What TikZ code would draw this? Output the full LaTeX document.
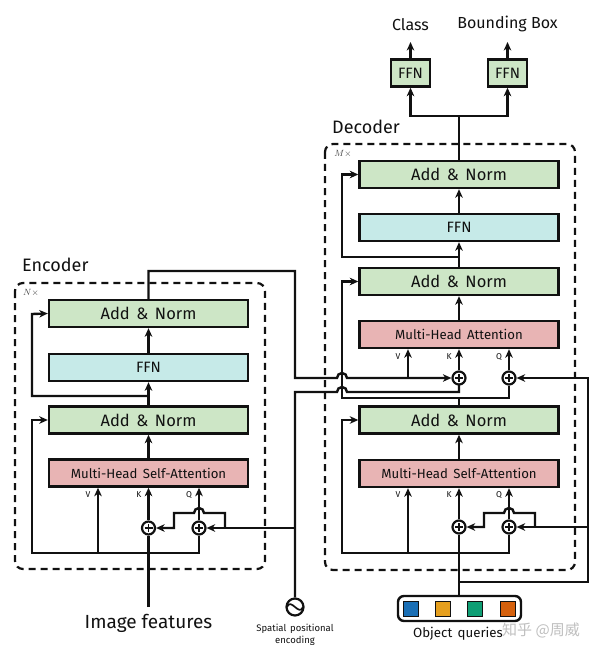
\documentclass[tikz,border=0pt]{standalone}
\usepackage{fontspec}
\setmainfont{Fira Sans}
\newfontfamily\cjkfont{Noto Sans CJK SC}
\usetikzlibrary{arrows.meta}
\definecolor{angreen}{HTML}{CDE6C6}
\definecolor{ffncyan}{HTML}{C6EAE8}
\definecolor{mhpink}{HTML}{E8B4B4}
\definecolor{qblue}{HTML}{1A6FB5}
\definecolor{qorange}{HTML}{E59F1E}
\definecolor{qgreen}{HTML}{0E9E74}
\definecolor{qred}{HTML}{D5600C}
\definecolor{ink}{HTML}{111111}
\newcommand\wsp{\hspace{0.4em}}
\begin{document}
\begin{tikzpicture}[x=1pt,y=-1pt,line width=2.4pt,draw=ink,text=ink,
  arr/.style={-{Stealth[length=8.5pt,width=7.5pt,inset=2.5pt]}},
  box/.style={draw=ink,line width=2.4pt,minimum width=199pt,minimum height=27pt,inner sep=0pt},
  an/.style={box,fill=angreen,font=\fontsize{16.5}{18}\selectfont},
  ffnbox/.style={box,fill=ffncyan,font=\fontsize{15}{18}\selectfont},
  mhbox/.style={box,fill=mhpink,font=\fontsize{13.2}{15}\selectfont},
  smallffn/.style={draw=ink,line width=2.4pt,fill=angreen,minimum width=39pt,minimum height=27pt,inner sep=0pt,font=\fontsize{15}{18}\selectfont},
  plusnode/.style={circle,draw=ink,fill=white,minimum size=13pt,inner sep=0pt,line width=2.2pt,
    path picture={\draw[line width=1.5pt] ([xshift=-4pt]path picture bounding box.center) -- ([xshift=4pt]path picture bounding box.center);
                  \draw[line width=1.5pt] ([yshift=-4pt]path picture bounding box.center) -- ([yshift=4pt]path picture bounding box.center);}},
  lbl/.style={inner sep=0pt,font=\fontsize{8.5}{9}\selectfont},
  dashbox/.style={draw=ink,line width=2.2pt,dash pattern=on 7pt off 5pt,rounded corners=8pt},
  qsq/.style={draw=ink,line width=1pt,minimum size=15pt,inner sep=0pt}]
\fill[white] (0,0) rectangle (600,655);
\useasboundingbox (0,0) rectangle (600,655);

% ---------- dashed frames ----------
\draw[dashbox] (15,283) rectangle (265,569);
\draw[dashbox] (325,144) rectangle (575,570);
\node[anchor=west,inner sep=0pt,font=\fontsize{18}{20}\selectfont] (enclbl) at (21,265) {Encoder};
\node[anchor=west,inner sep=0pt,font=\fontsize{18}{20}\selectfont] (declbl) at (331,127) {Decoder};
\node[inner sep=0pt,text=ink!80,font=\fontsize{9.5}{10}\selectfont] (nx) at (31,293) {$N\times$};
\node[inner sep=0pt,text=ink!80,font=\fontsize{9.5}{10}\selectfont] (mx) at (343,154) {$M\times$};

% ---------- encoder ----------
\node[an] (eAN2) at (148.5,313.5) {Add\wsp\&\wsp Norm};
\node[ffnbox] (eFFN) at (148.5,367.5) {FFN};
\node[an] (eAN1) at (148.5,420) {Add\wsp\&\wsp Norm};
\node[mhbox] (eMH) at (148.5,473) {Multi-Head\wsp Self-Attention};
\node[plusnode] (eK) at (148.5,528) {};
\node[plusnode] (eQ) at (199,528) {};
\node[lbl] (eVl) at (88,495) {V};
\node[lbl] (eKl) at (139,495) {K};
\node[lbl] (eQl) at (189,495) {Q};
\coordinate (eV) at (98,553);
\coordinate (eR1) at (32,553);
\coordinate (eR2) at (148.5,396);
\coordinate (eLoop) at (225,528);
\coordinate (imgIn) at (148.5,607);
\node[inner sep=0pt,font=\fontsize{19}{21}\selectfont] (imgf) at (148.5,623) {Image features};

\draw[arr] (eMH) -- (eAN1);
\draw[arr] (eAN1) -- (eFFN);
\draw[arr] (eFFN) -- (eAN2);
\draw[arr] (eR2) -| (32,314) -- (eAN2.west);
\draw[arr] (eQ.south) |- (eR1) |- (eAN1.west);
\draw[arr] (eV) -- (eV |- eMH.south);
\draw[arr] (eK.north) -- (eK.north |- eMH.south);
\draw[arr] (eQ.north) -- (eQ.north |- eMH.south);
\draw[arr] (eLoop) -- (225,513) -- (204,513) arc[start angle=0,end angle=180,radius=5pt] -- (174,513) |- (eK.east);
\draw (imgIn) -- (eK.south);

% ---------- positional encoding ----------
\node[circle,draw=ink,line width=2.2pt,minimum size=17pt,inner sep=0pt] (pe) at (295,607) {};
\draw[line width=1.7pt] (287,607) .. controls (291,597) and (299,617) .. (303,607);
\node[inner sep=0pt,align=center,font=\fontsize{9.5}{12}\selectfont] (pelbl) at (295,635) {Spatial\wsp positional\\encoding};
\coordinate (peBr) at (295,528);
\draw (pe.north) -- (295,392) -- (337,392) arc[start angle=180,end angle=0,radius=5pt] -- (459,392) -- (459,384.5);
\draw[arr] (peBr) -- (eQ.east);

% ---------- decoder ----------
\node[an] (dAN3) at (459,174.5) {Add\wsp\&\wsp Norm};
\node[ffnbox] (dFFN) at (459,227.5) {FFN};
\node[an] (dAN2) at (459,281.5) {Add\wsp\&\wsp Norm};
\node[mhbox] (dMH) at (459,334.5) {Multi-Head\wsp Attention};
\node[plusnode] (dK2) at (459,378) {};
\node[plusnode] (dQ2) at (509,378) {};
\node[an] (dAN1) at (459,420) {Add\wsp\&\wsp Norm};
\node[mhbox] (dMS) at (459,473.5) {Multi-Head\wsp Self-Attention};
\node[plusnode] (dK1) at (459,527) {};
\node[plusnode] (dQ1) at (509,527) {};
\node[lbl] (dV2l) at (398,357) {V};
\node[lbl] (dK2l) at (449,357) {K};
\node[lbl] (dQ2l) at (499,357) {Q};
\node[lbl] (dV1l) at (398,495) {V};
\node[lbl] (dK1l) at (449,495) {K};
\node[lbl] (dQ1l) at (499,495) {Q};
\coordinate (dV2) at (408,378);
\coordinate (dV1) at (408,553);
\coordinate (dR1) at (342,553);
\coordinate (dR2) at (342,398);
\coordinate (dR3) at (459,257);
\coordinate (dLoop) at (535,527);
\coordinate (qSplit) at (459,582);
\coordinate (qRight) at (588,527);
\coordinate (dOut) at (459,116);

% encoder output to decoder cross-attention
\draw[arr] (eAN2.north) -- (148.5,271) -- (295,271) -- (295,378) -- (337,378) arc[start angle=180,end angle=0,radius=5pt] -- (dK2.west);
\draw[arr] (dV2) -- (dV2 |- dMH.south);

% upper decoder layer
\draw (dAN1.north) -- (459,398);
\draw[arr] (dQ2.south) |- (dR2) |- (dAN2.west);
\draw[arr] (dK2.north) -- (dK2.north |- dMH.south);
\draw[arr] (dQ2.north) -- (dQ2.north |- dMH.south);
\draw[arr] (dMH) -- (dAN2);
\draw[arr] (dAN2) -- (dFFN);
\draw[arr] (dFFN) -- (dAN3);
\draw[arr] (dR3) -- (342,257) |- (dAN3.west);

% lower decoder layer
\draw[arr] (dQ1.south) |- (dR1) |- (dAN1.west);
\draw[arr] (dV1) -- (dV1 |- dMS.south);
\draw[arr] (dK1.north) -- (dK1.north |- dMS.south);
\draw[arr] (dQ1.north) -- (dQ1.north |- dMS.south);
\draw[arr] (dMS) -- (dAN1);
\draw[arr] (dLoop) -- (535,513) -- (514,513) arc[start angle=0,end angle=180,radius=5pt] -- (484,513) |- (dK1.east);

% object queries
\node[draw=ink,line width=2.4pt,rounded corners=6pt,minimum width=123pt,minimum height=25pt,inner sep=0pt] (oq) at (459.5,608.5) {};
\node[qsq,fill=qblue] (q1) at (411,608.5) {};
\node[qsq,fill=qorange] (q2) at (443,608.5) {};
\node[qsq,fill=qgreen] (q3) at (475,608.5) {};
\node[qsq,fill=qred] (q4) at (508,608.5) {};
\node[inner sep=0pt,font=\fontsize{13.3}{16}\selectfont] (oqlbl) at (458,634) {Object\wsp queries};
\draw (oq.north -| dK1) -- (dK1.south);
\draw[arr] (qSplit) -- (588,582) -- (588,378) -- (dQ2.east);
\draw[arr] (qRight) -- (dQ1.east);

% outputs
\node[smallffn] (fc) at (410.5,73) {FFN};
\node[smallffn] (fb) at (507.5,73) {FFN};
\coordinate (cTop) at (410.5,42);
\coordinate (bTop) at (507.5,42);
\node[inner sep=0pt,font=\fontsize{16}{18}\selectfont] (cls) at (410.5,25) {Class};
\node[inner sep=0pt,font=\fontsize{16}{18}\selectfont] (bbox) at (507.5,24) {Bounding Box};
\draw (dAN3.north) -- (dOut);
\draw[arr] (dOut) -| (fc.south);
\draw[arr] (dOut) -| (fb.south);
\draw[arr] (fc.north) -- (cTop);
\draw[arr] (fb.north) -- (bTop);

% watermark
\node[inner sep=0pt,text=black!25,font=\cjkfont\fontsize{15}{16}\selectfont] (wm) at (541,630) {知乎 @周威};
\end{tikzpicture}
\end{document}
